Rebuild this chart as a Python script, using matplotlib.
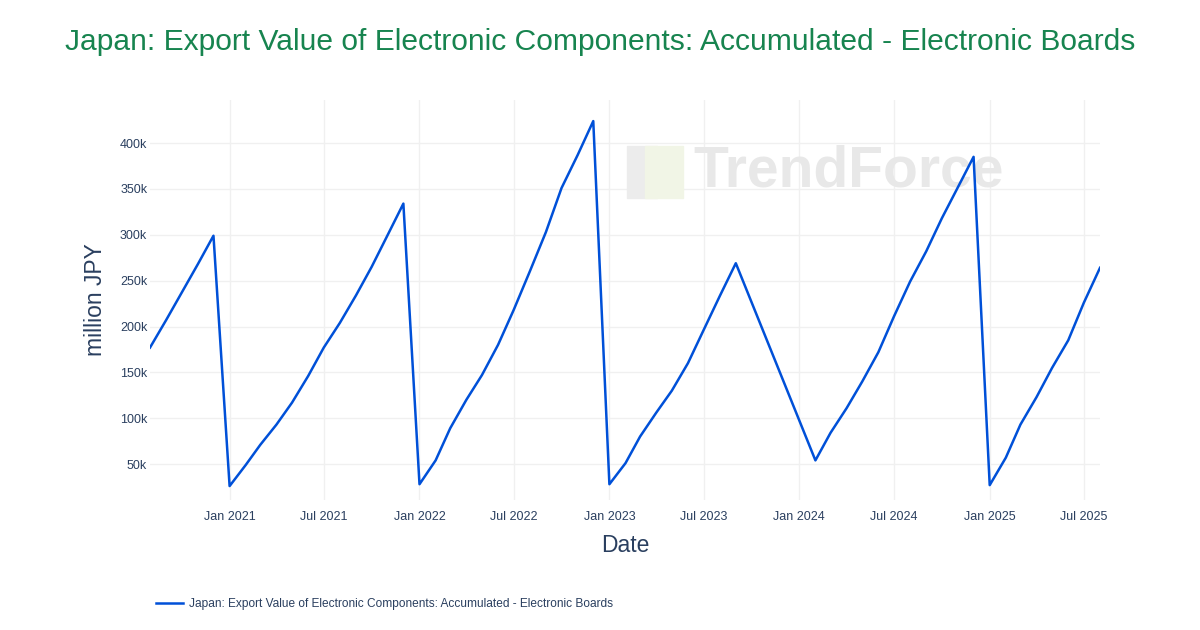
import matplotlib
matplotlib.use("Agg")
import matplotlib.pyplot as plt
import matplotlib.dates as mdates
import numpy as np
import pandas as pd

# monthly accumulated export value, million JPY (Aug 2020 - Aug 2025)
# Oct 2023 - Jan 2024 missing in source -> line jumps straight across
months = pd.date_range("2020-08-01", "2025-08-01", freq="MS")
values = [
    177000, 207000, 237000, 268000, 299000,                     # 2020 Aug-Dec
    26000, 49000, 71000, 93000, 117000, 146000,                 # 2021 Jan-Jun
    177000, 204000, 234000, 265000, 300000, 334000,             # 2021 Jul-Dec
    28000, 54000, 89000, 120000, 147000, 180000,                # 2022 Jan-Jun
    218000, 260000, 303000, 351000, 387000, 424000,             # 2022 Jul-Dec
    28000, 51000, 80000, 106000, 130000, 160000,                # 2023 Jan-Jun
    196000, 233000, 269000, np.nan, np.nan, np.nan,             # 2023 Jul-Dec
    np.nan, 54000, 84000, 111000, 140000, 172000,               # 2024 Jan-Jun
    211000, 249000, 282000, 318000, 352000, 385000,             # 2024 Jul-Dec
    27000, 57000, 93000, 123000, 155000, 185000,                # 2025 Jan-Jun
    226000, 264000,                                             # 2025 Jul-Aug
]
series_name = "Japan: Export Value of Electronic Components: Accumulated - Electronic Boards"
y_ticks = [50000, 100000, 150000, 200000, 250000, 300000, 350000, 400000]
y_tick_labels = ["50k", "100k", "150k", "200k", "250k", "300k", "350k", "400k"]

df = pd.DataFrame({"date": months, "value": values}).dropna()

plt.rcParams["font.family"] = ["Liberation Sans", "DejaVu Sans"]
text_col = "#2a3f5f"
line_col = "#0050d8"

fig = plt.figure(figsize=(12, 6.3), dpi=100)
ax = fig.add_axes([150 / 1200, 1 - 500 / 630, 950 / 1200, 400 / 630])

# faint watermark (logo block + name), kept under the line
ax.add_patch(plt.Rectangle((627 / 1200, 1 - 198 / 630), 30 / 1200, 52 / 630,
                           transform=fig.transFigure, color="#ececec", zorder=1, clip_on=False))
ax.add_patch(plt.Rectangle((645 / 1200, 1 - 198 / 630), 38 / 1200, 52 / 630,
                           transform=fig.transFigure, color="#f1f5e6", zorder=1, clip_on=False))
ax.text(693 / 1200, 1 - 172 / 630, "TrendForce", fontsize=41, fontweight="bold",
        color="#e8e8e8", ha="left", va="center", zorder=1, transform=fig.transFigure)

ax.plot(df["date"], df["value"], color=line_col, linewidth=1.8, label=series_name, zorder=3)

ax.set_xlim(months[0], months[-1])
ax.set_ylim(10800, 447000)
ax.set_yticks(y_ticks)
ax.set_yticklabels(y_tick_labels)
ax.xaxis.set_major_locator(mdates.MonthLocator(bymonth=[1, 7]))
ax.xaxis.set_major_formatter(mdates.DateFormatter("%b %Y"))

ax.patch.set_alpha(0)
ax.grid(True, color="#f0f0f0", linewidth=1)
ax.set_axisbelow(True)
for s in ax.spines.values():
    s.set_visible(False)
ax.tick_params(axis="both", length=0, labelsize=9, colors=text_col)
ax.tick_params(axis="x", pad=8)
ax.tick_params(axis="y", pad=2)

ax.set_xlabel("Date", fontsize=16.5, color=text_col, labelpad=8)
ax.set_ylabel("million JPY", fontsize=16.5, color=text_col, labelpad=9)

fig.text(0.5, 1 - 42 / 630, "Japan: Export Value of Electronic Components: Accumulated - Electronic Boards",
         fontsize=21.6, color="#17844f", ha="center", va="center")

leg = fig.legend(loc="center left", bbox_to_anchor=(145 / 1200, 1 - 604 / 630), frameon=False,
                 fontsize=8.6, handlelength=2.3, handletextpad=0.5)
for t in leg.get_texts():
    t.set_color(text_col)

fig.savefig("out.png", dpi=100, facecolor="white")
